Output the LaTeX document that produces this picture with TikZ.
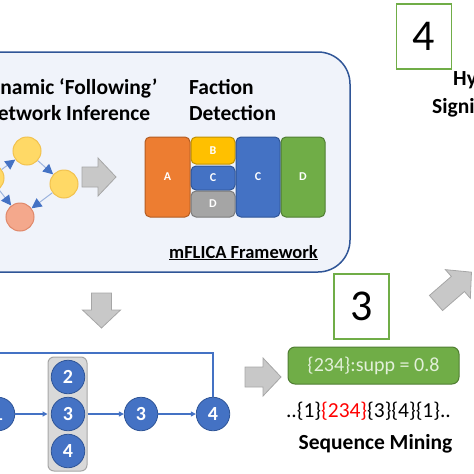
\documentclass[tikz,border=0pt]{standalone}
\usepackage{fontspec}
\setmainfont{Carlito}
\usetikzlibrary{arrows.meta}
\definecolor{mblue}{HTML}{4472C4}
\definecolor{mbluedark}{HTML}{2F5597}
\definecolor{edgeblue}{HTML}{9DB4DE}
\definecolor{framefill}{HTML}{F0F3FA}
\definecolor{nodeyellow}{HTML}{FFD966}
\definecolor{yellowline}{HTML}{F2C24E}
\definecolor{salmon}{HTML}{F4A88C}
\definecolor{salmonline}{HTML}{E0886A}
\definecolor{morange}{HTML}{ED7D31}
\definecolor{morangedark}{HTML}{B35C22}
\definecolor{myellow}{HTML}{FFC000}
\definecolor{myellowdark}{HTML}{BF9000}
\definecolor{mgrey}{HTML}{A5A5A5}
\definecolor{mgreydark}{HTML}{7B7B7B}
\definecolor{mgreen}{HTML}{70AD47}
\definecolor{mgreendark}{HTML}{507E32}
\definecolor{palegreen}{HTML}{E2F0D9}
\definecolor{stackgrey}{HTML}{D9D9D9}
\definecolor{arrowfill}{HTML}{C8C8C8}
\definecolor{arrowline}{HTML}{A6A6A6}
\begin{document}
\begin{tikzpicture}[x=1pt,y=-1pt,
    heading/.style={font=\bfseries\fontsize{21.5}{26}\selectfont, inner sep=0, anchor=base},
    netnode/.style={circle, minimum size=28, inner sep=0, fill=nodeyellow, draw=yellowline, line width=1pt},
    netedge/.style={draw=edgeblue, line width=1pt, -{Triangle[length=10pt,width=10pt,color=mblue]}},
    faction/.style={draw, rounded corners=5, inner sep=0, line width=1pt, text=white, font=\bfseries\fontsize{12}{14}\selectfont},
    seqnode/.style={circle, minimum size=33.5, inner sep=0, fill=mblue, draw=mbluedark, line width=0.8pt, text=white, font=\bfseries\fontsize{20}{20}\selectfont},
    seqedge/.style={draw=mblue, line width=1.2pt, -{Triangle[length=5pt,width=5pt]}},
    seqline/.style={draw=mblue, line width=1.2pt},
    stepnum/.style={draw=mgreen, line width=1.5pt, fill=white, inner sep=0, minimum width=55, minimum height=65, font=\fontsize{44}{44}\selectfont},
    arrowgrey/.style={fill=arrowfill, draw=arrowline, line width=0.8pt},
    blockarrow/.pic={\draw[arrowgrey] (0,-10) -- (#1,-10) -- (#1,-19) -- ({#1+18},0) -- (#1,19) -- (#1,10) -- (0,10) -- cycle;}]
\useasboundingbox (0,0) rectangle (474,474);
\clip (0,0) rectangle (474,474);
\draw[draw=mbluedark, fill=framefill, line width=1.5pt, rounded corners=32] (-60,52) rectangle (350,272);
\node[heading] (dyn1) at (67,94) {Dynamic ‘Following’};
\node[heading] (dyn2) at (67,120) {Network Inference};
\node[heading, anchor=base west] (fac1) at (189,94) {Faction};
\node[heading, anchor=base west] (fac2) at (189,120) {Detection};
\node[netnode] (nl) at (-10,178) {};
\node[netnode] (nt) at (27,151) {};
\node[netnode] (nr) at (64,184) {};
\node[netnode, fill=salmon, draw=salmonline] (nb) at (20,217) {};
\draw[netedge] (nl) -- (nt);
\draw[netedge] (nt) -- (nr);
\draw[netedge] (nr) -- (nb);
\draw[netedge] (nl) -- (nb);
\pic at (82,177) {blockarrow=16};
\node[faction, fill=morange, draw=morangedark, minimum width=45, minimum height=80] (fA) at (167.5,177) {A};
\node[faction, fill=myellow, draw=myellowdark, minimum width=44, minimum height=27] (fB) at (213,150.5) {B};
\node[faction, fill=mblue, draw=mbluedark, minimum width=44, minimum height=24] (fC) at (213,178) {C};
\node[faction, fill=mgrey, draw=mgreydark, minimum width=44, minimum height=26] (fD) at (213,204) {D};
\node[faction, fill=mblue, draw=mbluedark, minimum width=44, minimum height=80] (gC) at (258,177) {C};
\node[faction, fill=mgreen, draw=mgreendark, minimum width=44, minimum height=80] (gD) at (303,177) {D};
\node[inner sep=0, anchor=base, font=\bfseries\fontsize{18.5}{22}\selectfont] (mflica) at (243.5,258) {\underline{mFLICA Framework}};
\pic[rotate=-90] at (101.5,293) {blockarrow=17};
\node[seqnode] (n1) at (-2,414) {1};
\node[draw=arrowline, fill=stackgrey, rounded corners=6, line width=1pt, minimum width=39, minimum height=114, inner sep=0] (stack) at (67.5,414) {};
\node[seqnode] (s2) at (68,377) {2};
\node[seqnode] (s3) at (68,414) {3};
\node[seqnode] (s4) at (68,451) {4};
\node[seqnode] (m3) at (141,414) {3};
\node[seqnode] (m4) at (213,414) {4};
\coordinate (loop) at (100,353);
\draw[seqedge] (n1) -- (stack);
\draw[seqedge] (stack) -- (m3);
\draw[seqedge] (m3) -- (m4);
\draw[seqline] (n1.north) |- (loop) -| (m4.north);
\pic at (245,377) {blockarrow=18};
\node[stepnum] (box3) at (361.5,306.5) {3};
\node[draw=mgreendark, fill=mgreen, rounded corners=7, line width=1pt, minimum width=171, minimum height=37, inner sep=0, text=palegreen, font=\fontsize{20}{20}\selectfont] (supp) at (373.5,365.5) {\{234\}:supp = 0.8};
\node[inner sep=0, anchor=base, font=\fontsize{21.4}{24}\selectfont] (seqtxt) at (368.5,417) {..\{1\}\textcolor{red}{\{234\}}\{3\}\{4\}\{1\}..};
\node[heading] (seqmine) at (375.5,449) {Sequence Mining};
\pic[rotate=41] at (436,303) {blockarrow=29};
\node[stepnum] (box4) at (424,36.5) {4};
\node[heading, anchor=base west] (hyp1) at (453,85) {Hypothesis};
\node[heading, anchor=base west] (hyp2) at (432,113) {Significance};
\end{tikzpicture}
\end{document}
